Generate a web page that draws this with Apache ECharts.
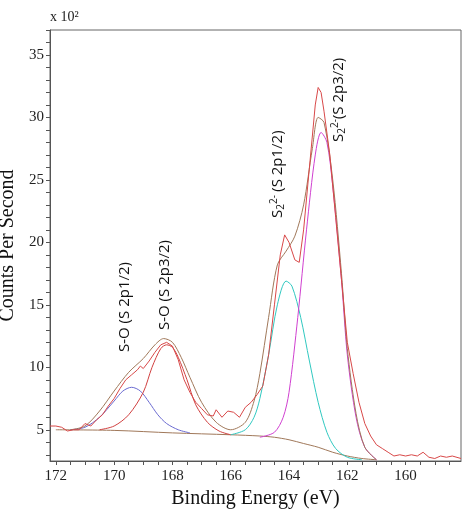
<!DOCTYPE html>
<html><head><meta charset="utf-8">
<script src="https://cdn.jsdelivr.net/npm/echarts@6/dist/echarts.min.js"></script>
<style>html,body{margin:0;padding:0;background:#fff}#c{width:474px;height:510px}</style>
</head><body><div id="c"></div>
<script>
const rawData = [[172.2,5.3],[172,5.3],[171.8,5.2],[171.6,4.9],[171.4,5.0],[171.2,5.0],[171,5.5],[170.8,5.3],[170.6,5.8],[170.4,6.2],[170.2,6.9],[170,7.5],[169.8,8.3],[169.6,9.0],[169.4,9.4],[169.2,9.8],[169.1,10.1],[169,9.9],[168.8,10.5],[168.6,11.2],[168.4,11.8],[168.2,12.0],[168,11.7],[167.8,10.6],[167.6,9.0],[167.4,8.0],[167.2,7.2],[167,6.7],[166.8,6.2],[166.6,6.1],[166.5,6.6],[166.3,6.0],[166.1,6.5],[165.9,6.4],[165.7,6.0],[165.5,6.8],[165.3,7.2],[165.1,7.8],[164.9,8.5],[164.7,11],[164.5,15],[164.3,19.0],[164.15,20.6],[164,20.0],[163.8,18.6],[163.65,18.4],[163.5,21],[163.3,26],[163.1,31],[163,32.4],[162.9,32.0],[162.8,30.5],[162.6,27],[162.4,22],[162.2,17],[162,12],[161.8,9.5],[161.6,7.2],[161.4,5.5],[161.2,4.5],[161,3.8],[160.8,3.5],[160.6,3.2],[160.4,2.9],[160.2,3.0],[160,2.9],[159.8,3.0],[159.6,2.9],[159.4,3.2],[159.2,2.8],[159,2.7],[158.8,2.9],[158.6,2.8],[158.4,2.9],[158.1,2.7]];
const envelope = [[171.5,5.0],[171,5.3],[170.5,6.5],[170,8.1],[169.5,9.6],[169,10.7],[168.6,11.8],[168.3,12.3],[168,12.0],[167.7,10.8],[167.4,9.2],[167,7.2],[166.5,5.6],[166,5.0],[165.5,5.6],[165.2,7.3],[165,9.5],[164.7,14],[164.4,18.2],[164.1,19.3],[163.8,20.5],[163.5,23],[163.2,27.5],[163,30],[162.8,29.6],[162.5,25],[162.2,17.5],[162,11.5],[161.7,6.3],[161.4,3.6],[161,2.6]];
const background = [[172,5.0],[170,4.95],[168,4.75],[166,4.6],[165,4.5],[164.5,4.4],[164,4.2],[163.5,3.9],[163,3.6],[162.5,3.2],[162,2.9],[161.5,2.7],[161,2.6]];
const so12 = [[171.5,5.0],[171,5.2],[170.5,6.0],[170,7.3],[169.7,8.1],[169.4,8.4],[169.1,8.1],[168.8,7.2],[168.5,6.2],[168.2,5.5],[167.8,5.0],[167.4,4.75]];
const so32 = [[170.5,5.0],[170,5.3],[169.5,6.2],[169,8.0],[168.7,10.0],[168.4,11.5],[168.2,11.8],[168,11.6],[167.8,10.8],[167.5,9.0],[167.2,7.0],[166.8,5.6],[166.4,4.9],[166,4.6]];
const s12 = [[166,4.6],[165.5,5.0],[165.2,6.0],[165,7.5],[164.7,11],[164.4,15],[164.1,16.9],[163.9,16.5],[163.6,14],[163.3,10.5],[163,7.2],[162.7,4.8],[162.4,3.5],[162,2.8],[161.5,2.6]];
const s32 = [[165,4.4],[164.5,4.8],[164.2,6],[164,8],[163.7,14],[163.4,21],[163.1,27],[162.9,28.8],[162.7,28],[162.5,24.5],[162.2,17],[162,11],[161.7,6],[161.4,3.6],[161,2.6]];
const xTicks = [160,162,164,166,168,170,172];
const yTicks = [5,10,15,20,25,30,35];
const labels = ['S-O (S 2p1/2)','S-O (S 2p3/2)'];

const chart = echarts.init(document.getElementById('c'));
const serif = 'Liberation Serif';
function line(data,color,w){return {type:'line',data,smooth:0.3,showSymbol:false,lineStyle:{color,width:w||1},animation:false};}
const minorY=[];for(let v=3;v<=37;v++)minorY.push(v);
const minorX=[];for(let v=158.5;v<=172;v+=0.5)minorX.push(v);
const rich={b:{fontFamily:'Open Sans',fontSize:15,fill:'#111'},s:{fontFamily:'Open Sans',fontSize:10,fill:'#111',verticalAlign:'bottom',padding:[7,0,0,0]},p:{fontFamily:'Open Sans',fontSize:10,fill:'#111',verticalAlign:'top',padding:[0,0,7,0]}};
chart.setOption({
  grid:{left:50,right:13,top:30,bottom:49,outerBoundsMode:'none',show:true,borderColor:'#666',borderWidth:1},
  xAxis:{type:'value',inverse:true,min:158.1,max:172.2,
    name:'Binding Energy (eV)',nameLocation:'middle',nameGap:28,
    nameTextStyle:{fontFamily:serif,fontSize:20,color:'#111'},
    axisLine:{lineStyle:{color:'#555'}},
    axisTick:{customValues:minorX,length:4,lineStyle:{color:'#555'}},
    axisLabel:{customValues:xTicks,fontFamily:serif,fontSize:15,color:'#222'},
    splitLine:{show:false}},
  yAxis:{type:'value',min:2.5,max:37,
    name:'Counts Per Second',nameLocation:'middle',nameGap:30,
    nameTextStyle:{fontFamily:serif,fontSize:20,color:'#111'},
    axisLine:{show:true,lineStyle:{color:'#555'}},
    axisTick:{show:true,customValues:minorY,length:4,lineStyle:{color:'#555'}},
    axisLabel:{customValues:yTicks,fontFamily:serif,fontSize:15,color:'#222',margin:6},
    splitLine:{show:false}},
  series:[
    line(background,'#a0785a'),
    line(so12,'#6a6ad0'),
    line(so32,'#d04040'),
    line(s12,'#30c8c0'),
    line(s32,'#d040d0'),
    line(envelope,'#a0785a'),
    {type:'line',data:rawData,showSymbol:false,lineStyle:{color:'#d84848',width:1},animation:false}
  ],
  graphic:[
    {type:'text',left:50,top:10,style:{text:'x 10²',font:'14px Liberation Serif',fill:'#222'}},
    {type:'text',x:125,y:352,rotation:Math.PI/2,style:{text:'{b|'+labels[0]+'}',textAlign:'left',textVerticalAlign:'middle',rich}},
    {type:'text',x:165,y:330,rotation:Math.PI/2,style:{text:'{b|'+labels[1]+'}',textAlign:'left',textVerticalAlign:'middle',rich}},
    {type:'text',x:278,y:218,rotation:Math.PI/2,style:{text:'{b|S}{s|2}{p|2-} {b|(S 2p1/2)}',textAlign:'left',textVerticalAlign:'middle',rich}},
    {type:'text',x:339,y:142,rotation:Math.PI/2,style:{text:'{b|S}{s|2}{p|2-}{b|(S 2p3/2)}',textAlign:'left',textVerticalAlign:'middle',rich}}
  ]
});
</script></body></html>
